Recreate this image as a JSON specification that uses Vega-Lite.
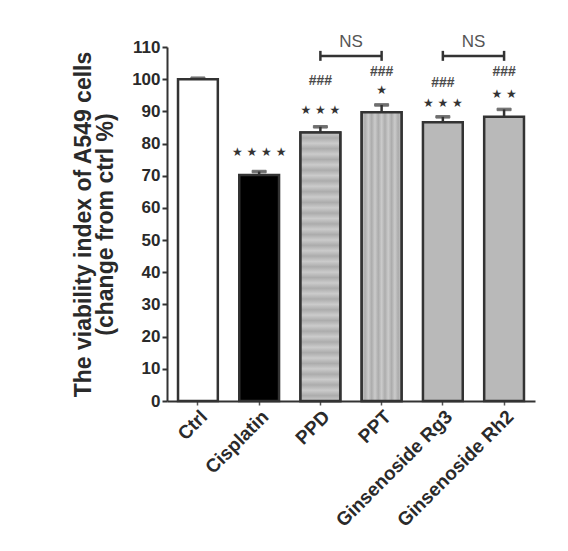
{
  "$schema": "https://vega.github.io/schema/vega-lite/v6.json",
  "autosize": {"type": "none"},
  "padding": {"left": 167, "top": 47, "right": 33, "bottom": 150},
  "width": 368,
  "height": 354,
  "background": "white",
  "config": {
    "view": {"stroke": null},
    "font": "Liberation Sans"
  },
  "datasets": {
    "bars": [
      {"group": "Ctrl", "mean": 100, "upper": 100.3},
      {"group": "Cisplatin", "mean": 70.2, "upper": 71.3},
      {"group": "PPD", "mean": 83.4, "upper": 85.2},
      {"group": "PPT", "mean": 89.7, "upper": 92.0},
      {"group": "Ginsenoside Rg3", "mean": 86.6, "upper": 88.3},
      {"group": "Ginsenoside Rh2", "mean": 88.3, "upper": 90.6}
    ],
    "stars": [
      {"group": "Cisplatin", "label": "★ ★ ★ ★", "y": 77.5},
      {"group": "PPD", "label": "★ ★ ★", "y": 90.5},
      {"group": "PPT", "label": "★", "y": 96.5},
      {"group": "Ginsenoside Rg3", "label": "★ ★ ★", "y": 92.5},
      {"group": "Ginsenoside Rh2", "label": "★ ★", "y": 95.5}
    ],
    "hashes": [
      {"group": "PPD", "label": "###", "y": 99.3},
      {"group": "PPT", "label": "###", "y": 102.3},
      {"group": "Ginsenoside Rg3", "label": "###", "y": 98.8},
      {"group": "Ginsenoside Rh2", "label": "###", "y": 102.3}
    ],
    "brackets": [
      {"from": "PPD", "to": "PPT", "y": 107.2, "label": "NS", "ly": 111.5},
      {"from": "Ginsenoside Rg3", "to": "Ginsenoside Rh2", "y": 107.2, "label": "NS", "ly": 111.5}
    ],
    "bracketEnds": [
      {"group": "PPD", "y1": 105.7, "y2": 108.8},
      {"group": "PPT", "y1": 105.7, "y2": 108.8},
      {"group": "Ginsenoside Rg3", "y1": 105.7, "y2": 108.8},
      {"group": "Ginsenoside Rh2", "y1": 105.7, "y2": 108.8}
    ]
  },
  "encoding": {
    "x": {
      "field": "group",
      "type": "nominal",
      "scale": {
        "domain": ["Ctrl", "Cisplatin", "PPD", "PPT", "Ginsenoside Rg3", "Ginsenoside Rh2"],
        "paddingInner": 0.35, "paddingOuter": 0.18
      },
      "axis": {
        "title": null,
        "labelAngle": -45,
        "labelFont": "Liberation Sans",
        "labelFontWeight": "bold",
        "labelFontSize": 19,
        "labelColor": "#2a2a2a",
        "domainColor": "#333333",
        "domainWidth": 2,
        "tickColor": "#555555",
        "tickWidth": 1.5,
        "tickSize": 4,
        "labelPadding": 2
      }
    }
  },
  "layer": [
    {
      "data": {"name": "bars"},
      "mark": {"type": "bar", "stroke": "#333333", "strokeWidth": 2.5},
      "encoding": {
        "y": {
          "field": "mean",
          "type": "quantitative",
          "scale": {"domain": [0, 110], "nice": false},
          "axis": {
            "values": [0, 10, 20, 30, 40, 50, 60, 70, 80, 90, 100, 110],
            "grid": false,
            "title": ["The viability index of A549 cells", "(change from ctrl %)"],
            "titleFont": "Liberation Sans",
            "titleFontWeight": "bold",
            "titleFontSize": 23,
            "titleColor": "#2a2a2a",
            "titleLineHeight": 22,
            "titlePadding": 14,
            "labelFont": "Liberation Sans",
            "labelFontWeight": "bold",
            "labelFontSize": 17,
            "labelColor": "#2a2a2a",
            "domainColor": "#333333",
            "domainWidth": 2,
            "tickColor": "#333333",
            "tickWidth": 2,
            "tickSize": 5,
            "labelPadding": 2
          }
        },
        "fill": {
          "field": "group",
          "type": "nominal",
          "scale": {
            "domain": ["Ctrl", "Cisplatin", "PPD", "PPT", "Ginsenoside Rg3", "Ginsenoside Rh2"],
            "range": ["#ffffff", "#000000", "#bdbdbd", "#bdbdbd", "#b9b9b9", "#b9b9b9"]
          },
          "legend": null
        }
      }
    },
    {
      "data": {"name": "bars"},
      "mark": {"type": "rule", "stroke": "#333333", "strokeWidth": 2.5},
      "encoding": {
        "y": {"field": "mean", "type": "quantitative", "axis": {"values": [0, 10, 20, 30, 40, 50, 60, 70, 80, 90, 100, 110]}},
        "y2": {"field": "upper"}
      }
    },
    {
      "data": {"name": "bars"},
      "mark": {"type": "tick", "stroke": "#333333", "color": "#333333", "thickness": 2.5, "size": 14},
      "encoding": {
        "y": {"field": "upper", "type": "quantitative", "axis": {"values": [0, 10, 20, 30, 40, 50, 60, 70, 80, 90, 100, 110]}}
      }
    },
    {
      "data": {"name": "bars"},
      "transform": [{"filter": "datum.group === 'PPD'"}],
      "mark": {
        "type": "bar",
        "stroke": "#333333",
        "strokeWidth": 2.5,
        "fill": {
          "gradient": "linear", "x1": 0, "y1": 0, "x2": 0, "y2": 1,
          "stops": [
            {"offset": 0.00, "color": "#cbcbcb"}, {"offset": 0.02, "color": "#acacac"},
            {"offset": 0.04, "color": "#cbcbcb"}, {"offset": 0.06, "color": "#acacac"},
            {"offset": 0.08, "color": "#cbcbcb"}, {"offset": 0.10, "color": "#acacac"},
            {"offset": 0.12, "color": "#cbcbcb"}, {"offset": 0.14, "color": "#acacac"},
            {"offset": 0.16, "color": "#cbcbcb"}, {"offset": 0.18, "color": "#acacac"},
            {"offset": 0.20, "color": "#cbcbcb"}, {"offset": 0.22, "color": "#acacac"},
            {"offset": 0.24, "color": "#cbcbcb"}, {"offset": 0.26, "color": "#acacac"},
            {"offset": 0.28, "color": "#cbcbcb"}, {"offset": 0.30, "color": "#acacac"},
            {"offset": 0.32, "color": "#cbcbcb"}, {"offset": 0.34, "color": "#acacac"},
            {"offset": 0.36, "color": "#cbcbcb"}, {"offset": 0.38, "color": "#acacac"},
            {"offset": 0.40, "color": "#cbcbcb"}, {"offset": 0.42, "color": "#acacac"},
            {"offset": 0.44, "color": "#cbcbcb"}, {"offset": 0.46, "color": "#acacac"},
            {"offset": 0.48, "color": "#cbcbcb"}, {"offset": 0.50, "color": "#acacac"},
            {"offset": 0.52, "color": "#cbcbcb"}, {"offset": 0.54, "color": "#acacac"},
            {"offset": 0.56, "color": "#cbcbcb"}, {"offset": 0.58, "color": "#acacac"},
            {"offset": 0.60, "color": "#cbcbcb"}, {"offset": 0.62, "color": "#acacac"},
            {"offset": 0.64, "color": "#cbcbcb"}, {"offset": 0.66, "color": "#acacac"},
            {"offset": 0.68, "color": "#cbcbcb"}, {"offset": 0.70, "color": "#acacac"},
            {"offset": 0.72, "color": "#cbcbcb"}, {"offset": 0.74, "color": "#acacac"},
            {"offset": 0.76, "color": "#cbcbcb"}, {"offset": 0.78, "color": "#acacac"},
            {"offset": 0.80, "color": "#cbcbcb"}, {"offset": 0.82, "color": "#acacac"},
            {"offset": 0.84, "color": "#cbcbcb"}, {"offset": 0.86, "color": "#acacac"},
            {"offset": 0.88, "color": "#cbcbcb"}, {"offset": 0.90, "color": "#acacac"},
            {"offset": 0.92, "color": "#cbcbcb"}, {"offset": 0.94, "color": "#acacac"},
            {"offset": 0.96, "color": "#cbcbcb"}, {"offset": 0.98, "color": "#acacac"},
            {"offset": 1.00, "color": "#cbcbcb"}
          ]
        }
      },
      "encoding": {
        "y": {"field": "mean", "type": "quantitative", "axis": {"values": [0, 10, 20, 30, 40, 50, 60, 70, 80, 90, 100, 110]}}
      }
    },
    {
      "data": {"name": "bars"},
      "transform": [{"filter": "datum.group === 'PPT'"}],
      "mark": {
        "type": "bar",
        "stroke": "#333333",
        "strokeWidth": 2.5,
        "fill": {
          "gradient": "linear", "x1": 0, "y1": 0, "x2": 1, "y2": 0,
          "stops": [
            {"offset": 0.000, "color": "#cbcbcb"}, {"offset": 0.083, "color": "#acacac"},
            {"offset": 0.167, "color": "#cbcbcb"}, {"offset": 0.250, "color": "#acacac"},
            {"offset": 0.333, "color": "#cbcbcb"}, {"offset": 0.417, "color": "#acacac"},
            {"offset": 0.500, "color": "#cbcbcb"}, {"offset": 0.583, "color": "#acacac"},
            {"offset": 0.667, "color": "#cbcbcb"}, {"offset": 0.750, "color": "#acacac"},
            {"offset": 0.833, "color": "#cbcbcb"}, {"offset": 0.917, "color": "#acacac"},
            {"offset": 1.000, "color": "#cbcbcb"}
          ]
        }
      },
      "encoding": {
        "y": {"field": "mean", "type": "quantitative", "axis": {"values": [0, 10, 20, 30, 40, 50, 60, 70, 80, 90, 100, 110]}}
      }
    },
    {
      "data": {"name": "stars"},
      "mark": {"type": "text", "font": "DejaVu Sans", "fontSize": 12, "color": "#333333", "baseline": "middle", "clip": false},
      "encoding": {
        "y": {"field": "y", "type": "quantitative", "axis": {"values": [0, 10, 20, 30, 40, 50, 60, 70, 80, 90, 100, 110]}},
        "text": {"field": "label"}
      }
    },
    {
      "data": {"name": "hashes"},
      "mark": {"type": "text", "font": "Liberation Sans", "fontWeight": "bold", "fontSize": 14, "color": "#4a4a4a", "baseline": "middle", "clip": false},
      "encoding": {
        "y": {"field": "y", "type": "quantitative", "axis": {"values": [0, 10, 20, 30, 40, 50, 60, 70, 80, 90, 100, 110]}},
        "text": {"field": "label"}
      }
    },
    {
      "data": {"name": "brackets"},
      "mark": {"type": "rule", "stroke": "#333333", "strokeWidth": 2.5},
      "encoding": {
        "x": {"field": "from", "type": "nominal"},
        "x2": {"field": "to"},
        "y": {"field": "y", "type": "quantitative", "axis": {"values": [0, 10, 20, 30, 40, 50, 60, 70, 80, 90, 100, 110]}}
      }
    },
    {
      "data": {"name": "bracketEnds"},
      "mark": {"type": "rule", "stroke": "#333333", "strokeWidth": 2.5},
      "encoding": {
        "y": {"field": "y1", "type": "quantitative", "axis": {"values": [0, 10, 20, 30, 40, 50, 60, 70, 80, 90, 100, 110]}},
        "y2": {"field": "y2"}
      }
    },
    {
      "data": {"name": "brackets"},
      "mark": {"type": "text", "font": "Liberation Sans", "fontSize": 17, "color": "#555555", "baseline": "middle", "dx": 30.6, "clip": false},
      "encoding": {
        "x": {"field": "from", "type": "nominal"},
        "y": {"field": "ly", "type": "quantitative", "axis": {"values": [0, 10, 20, 30, 40, 50, 60, 70, 80, 90, 100, 110]}},
        "text": {"field": "label"}
      }
    }
  ]
}
